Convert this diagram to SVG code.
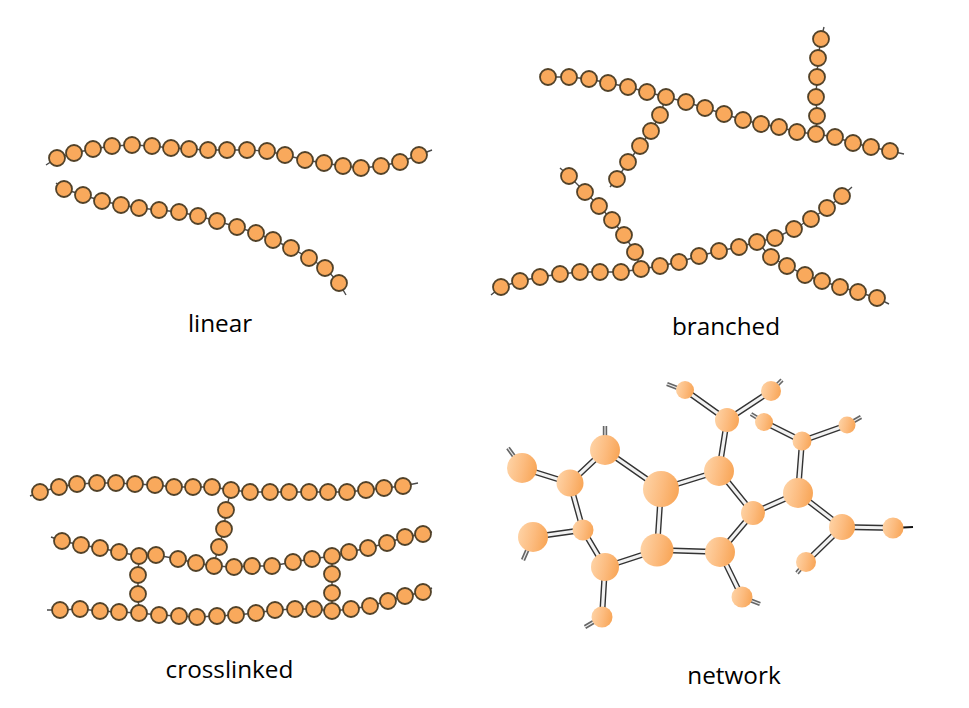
<svg xmlns="http://www.w3.org/2000/svg" width="969" height="708" viewBox="0 0 969 708">
<style>
.b circle{fill:#f9a95c;stroke:#524229;stroke-width:1.8}
.chain{fill:none;stroke:#4a4a4a;stroke-width:1.4}
.o{stroke:#333;stroke-width:6;fill:none}
.i{stroke:#f2f2f2;stroke-width:3.2;fill:none}
.s{stroke:#666;stroke-width:4.4;fill:none}
.s2{stroke:#eee;stroke-width:1.2;fill:none}
.a{fill:url(#g)}
.l{font-family:"Open Sans","Liberation Sans",sans-serif;font-size:24.300px;fill:#000;text-anchor:middle}
</style>
<defs>
<linearGradient id="g" x1="0" y1="0.3" x2="1" y2="0.5"><stop offset="0" stop-color="#fed3a6"/><stop offset="0.55" stop-color="#fcbb7e"/><stop offset="1" stop-color="#f8a658"/></linearGradient>
</defs>
<rect width="969" height="708" fill="#fff"/>
<g id="connectors">
<polyline class="chain" points="46,165 57,158 74,153 93,149 112,146 132,145 152,146 171,148 189,149 208,150 227,150 247,150 267,151 285,155 305,160 324,163 343,166 361,168 381,166 400,162 419,155 432,150"/>
<polyline class="chain" points="56,183 64,189 83,195 102,201 121,205 139,208 159,210 179,212 198,216 217,221 237,227 256,233 273,240 291,248 309,258 325,268 339,283 346,295"/>
<polyline class="chain" points="540,74 548,77 569,77 589,79 608,83 628,87 647,92 666,97 686,102 705,108 724,114 743,120 761,124 779,127 797,132 816,134 835,137 853,143 871,147 890,151 904,154"/>
<polyline class="chain" points="816,134 817,116 816,97 817,77 818,58 821,39 824,27"/>
<polyline class="chain" points="666,97 660,115 651,131 640,146 628,162 617,179 610,187"/>
<polyline class="chain" points="491,295 501,287 520,281 540,277 560,274 580,272 600,272 621,272 641,269 660,266 679,262 699,256 719,251 739,247 757,242 775,238 794,229 811,219 827,208 842,196 852,187"/>
<polyline class="chain" points="560,168 569,176 585,192 599,206 612,220 624,235 635,252 641,269"/>
<polyline class="chain" points="757,242 771,257 787,266 805,275 822,281 840,287 858,292 877,298 889,304"/>
<polyline class="chain" points="30,496 40,492 59,487 77,484 97,483 116,483 135,484 155,485 174,487 193,487 212,487 231,490 250,492 270,492 289,492 309,492 328,492 347,492 366,490 384,488 403,486 418,483"/>
<polyline class="chain" points="231,490 226,510 224,529 219,547 213,566"/>
<polyline class="chain" points="51,537 62,541 81,545 100,548 119,552 139,556 156,555 178,559 196,563 214,566 234,567 252,566 272,566 293,562 312,559 332,556 349,552 368,548 387,543 405,537 423,534 432,532"/>
<polyline class="chain" points="47,610 60,610 80,609 100,611 119,612 139,613 159,615 179,616 197,617 217,616 236,615 256,613 275,610 295,609 314,609 332,611 351,609 370,606 388,601 405,596 423,592 432,588"/>
<polyline class="chain" points="139,556 138,575 138,594 139,613"/>
<polyline class="chain" points="332,556 332,574 332,593 332,611"/>
<path class="o" d="M522,468L570,483M570,483L605,450M605,450L661,489M661,489L719,471M719,471L727,420M727,420L685,390M727,420L771,391M719,471L753,513M753,513L798,493M798,493L802,441M802,441L764,422M802,441L847,425M798,493L842,527M842,527L893,528M842,527L806,562M753,513L720,552M720,552L657,550M720,552L742,597M661,489L657,550M657,550L605,567M605,567L583,530M583,530L533,537M583,530L570,483M605,567L602,617"/>
<path class="i" d="M522,468L570,483M570,483L605,450M605,450L661,489M661,489L719,471M719,471L727,420M727,420L685,390M727,420L771,391M719,471L753,513M753,513L798,493M798,493L802,441M802,441L764,422M802,441L847,425M798,493L842,527M842,527L893,528M842,527L806,562M753,513L720,552M720,552L657,550M720,552L742,597M661,489L657,550M657,550L605,567M605,567L583,530M583,530L533,537M583,530L570,483M605,567L602,617"/>
<path class="s" d="M508,448L516,459M605,426L605,438M667,384L680,389M782,380L771,391M751,414L764,422M861,417L847,425M797,573L806,562M760,604L742,597M585,627L602,617M523,560L533,537"/>
<path class="s2" d="M508,448L516,459M605,426L605,438M667,384L680,389M782,380L771,391M751,414L764,422M861,417L847,425M797,573L806,562M760,604L742,597M585,627L602,617M523,560L533,537"/>
<path d="M893,528L913,527" stroke="#111" stroke-width="2" fill="none"/>
</g>
<g id="linear-1" class="b"><circle cx="57" cy="158" r="8"/><circle cx="74" cy="153" r="8"/><circle cx="93" cy="149" r="8"/><circle cx="112" cy="146" r="8"/><circle cx="132" cy="145" r="8"/><circle cx="152" cy="146" r="8"/><circle cx="171" cy="148" r="8"/><circle cx="189" cy="149" r="8"/><circle cx="208" cy="150" r="8"/><circle cx="227" cy="150" r="8"/><circle cx="247" cy="150" r="8"/><circle cx="267" cy="151" r="8"/><circle cx="285" cy="155" r="8"/><circle cx="305" cy="160" r="8"/><circle cx="324" cy="163" r="8"/><circle cx="343" cy="166" r="8"/><circle cx="361" cy="168" r="8"/><circle cx="381" cy="166" r="8"/><circle cx="400" cy="162" r="8"/><circle cx="419" cy="155" r="8"/></g>
<g id="linear-2" class="b"><circle cx="64" cy="189" r="8"/><circle cx="83" cy="195" r="8"/><circle cx="102" cy="201" r="8"/><circle cx="121" cy="205" r="8"/><circle cx="139" cy="208" r="8"/><circle cx="159" cy="210" r="8"/><circle cx="179" cy="212" r="8"/><circle cx="198" cy="216" r="8"/><circle cx="217" cy="221" r="8"/><circle cx="237" cy="227" r="8"/><circle cx="256" cy="233" r="8"/><circle cx="273" cy="240" r="8"/><circle cx="291" cy="248" r="8"/><circle cx="309" cy="258" r="8"/><circle cx="325" cy="268" r="8"/><circle cx="339" cy="283" r="8"/></g>
<g id="branched-1" class="b"><circle cx="548" cy="77" r="8"/><circle cx="569" cy="77" r="8"/><circle cx="589" cy="79" r="8"/><circle cx="608" cy="83" r="8"/><circle cx="628" cy="87" r="8"/><circle cx="647" cy="92" r="8"/><circle cx="666" cy="97" r="8"/><circle cx="686" cy="102" r="8"/><circle cx="705" cy="108" r="8"/><circle cx="724" cy="114" r="8"/><circle cx="743" cy="120" r="8"/><circle cx="761" cy="124" r="8"/><circle cx="779" cy="127" r="8"/><circle cx="797" cy="132" r="8"/><circle cx="816" cy="134" r="8"/><circle cx="835" cy="137" r="8"/><circle cx="853" cy="143" r="8"/><circle cx="871" cy="147" r="8"/><circle cx="890" cy="151" r="8"/><circle cx="817" cy="116" r="8"/><circle cx="816" cy="97" r="8"/><circle cx="817" cy="77" r="8"/><circle cx="818" cy="58" r="8"/><circle cx="821" cy="39" r="8"/><circle cx="660" cy="115" r="8"/><circle cx="651" cy="131" r="8"/><circle cx="640" cy="146" r="8"/><circle cx="628" cy="162" r="8"/><circle cx="617" cy="179" r="8"/></g>
<g id="branched-2" class="b"><circle cx="501" cy="287" r="8"/><circle cx="520" cy="281" r="8"/><circle cx="540" cy="277" r="8"/><circle cx="560" cy="274" r="8"/><circle cx="580" cy="272" r="8"/><circle cx="600" cy="272" r="8"/><circle cx="621" cy="272" r="8"/><circle cx="641" cy="269" r="8"/><circle cx="660" cy="266" r="8"/><circle cx="679" cy="262" r="8"/><circle cx="699" cy="256" r="8"/><circle cx="719" cy="251" r="8"/><circle cx="739" cy="247" r="8"/><circle cx="757" cy="242" r="8"/><circle cx="775" cy="238" r="8"/><circle cx="794" cy="229" r="8"/><circle cx="811" cy="219" r="8"/><circle cx="827" cy="208" r="8"/><circle cx="842" cy="196" r="8"/><circle cx="569" cy="176" r="8"/><circle cx="585" cy="192" r="8"/><circle cx="599" cy="206" r="8"/><circle cx="612" cy="220" r="8"/><circle cx="624" cy="235" r="8"/><circle cx="635" cy="252" r="8"/><circle cx="771" cy="257" r="8"/><circle cx="787" cy="266" r="8"/><circle cx="805" cy="275" r="8"/><circle cx="822" cy="281" r="8"/><circle cx="840" cy="287" r="8"/><circle cx="858" cy="292" r="8"/><circle cx="877" cy="298" r="8"/></g>
<g id="crosslinked-1" class="b"><circle cx="40" cy="492" r="8"/><circle cx="59" cy="487" r="8"/><circle cx="77" cy="484" r="8"/><circle cx="97" cy="483" r="8"/><circle cx="116" cy="483" r="8"/><circle cx="135" cy="484" r="8"/><circle cx="155" cy="485" r="8"/><circle cx="174" cy="487" r="8"/><circle cx="193" cy="487" r="8"/><circle cx="212" cy="487" r="8"/><circle cx="231" cy="490" r="8"/><circle cx="250" cy="492" r="8"/><circle cx="270" cy="492" r="8"/><circle cx="289" cy="492" r="8"/><circle cx="309" cy="492" r="8"/><circle cx="328" cy="492" r="8"/><circle cx="347" cy="492" r="8"/><circle cx="366" cy="490" r="8"/><circle cx="384" cy="488" r="8"/><circle cx="403" cy="486" r="8"/><circle cx="226" cy="510" r="8"/><circle cx="224" cy="529" r="8"/><circle cx="219" cy="547" r="8"/></g>
<g id="crosslinked-2" class="b"><circle cx="62" cy="541" r="8"/><circle cx="81" cy="545" r="8"/><circle cx="100" cy="548" r="8"/><circle cx="119" cy="552" r="8"/><circle cx="139" cy="556" r="8"/><circle cx="156" cy="555" r="8"/><circle cx="178" cy="559" r="8"/><circle cx="196" cy="563" r="8"/><circle cx="214" cy="566" r="8"/><circle cx="234" cy="567" r="8"/><circle cx="252" cy="566" r="8"/><circle cx="272" cy="566" r="8"/><circle cx="293" cy="562" r="8"/><circle cx="312" cy="559" r="8"/><circle cx="332" cy="556" r="8"/><circle cx="349" cy="552" r="8"/><circle cx="368" cy="548" r="8"/><circle cx="387" cy="543" r="8"/><circle cx="405" cy="537" r="8"/><circle cx="423" cy="534" r="8"/><circle cx="138" cy="575" r="8"/><circle cx="138" cy="594" r="8"/><circle cx="332" cy="574" r="8"/><circle cx="332" cy="593" r="8"/></g>
<g id="crosslinked-3" class="b"><circle cx="60" cy="610" r="8"/><circle cx="80" cy="609" r="8"/><circle cx="100" cy="611" r="8"/><circle cx="119" cy="612" r="8"/><circle cx="139" cy="613" r="8"/><circle cx="159" cy="615" r="8"/><circle cx="179" cy="616" r="8"/><circle cx="197" cy="617" r="8"/><circle cx="217" cy="616" r="8"/><circle cx="236" cy="615" r="8"/><circle cx="256" cy="613" r="8"/><circle cx="275" cy="610" r="8"/><circle cx="295" cy="609" r="8"/><circle cx="314" cy="609" r="8"/><circle cx="332" cy="611" r="8"/><circle cx="351" cy="609" r="8"/><circle cx="370" cy="606" r="8"/><circle cx="388" cy="601" r="8"/><circle cx="405" cy="596" r="8"/><circle cx="423" cy="592" r="8"/></g>
<g id="atom-1"><circle class="a" cx="522" cy="468" r="15"/></g>
<g id="atom-2"><circle class="a" cx="570" cy="483" r="13.500"/></g>
<g id="atom-3"><circle class="a" cx="605" cy="450" r="15"/></g>
<g id="atom-4"><circle class="a" cx="661" cy="489" r="18"/></g>
<g id="atom-5"><circle class="a" cx="685" cy="390" r="9"/></g>
<g id="atom-6"><circle class="a" cx="727" cy="420" r="12"/></g>
<g id="atom-7"><circle class="a" cx="719" cy="471" r="15"/></g>
<g id="atom-8"><circle class="a" cx="771" cy="391" r="10"/></g>
<g id="atom-9"><circle class="a" cx="764" cy="422" r="9"/></g>
<g id="atom-10"><circle class="a" cx="802" cy="441" r="9.500"/></g>
<g id="atom-11"><circle class="a" cx="847" cy="425" r="8.500"/></g>
<g id="atom-12"><circle class="a" cx="798" cy="493" r="15"/></g>
<g id="atom-13"><circle class="a" cx="753" cy="513" r="12"/></g>
<g id="atom-14"><circle class="a" cx="533" cy="537" r="15"/></g>
<g id="atom-15"><circle class="a" cx="583" cy="530" r="10.500"/></g>
<g id="atom-16"><circle class="a" cx="605" cy="567" r="14"/></g>
<g id="atom-17"><circle class="a" cx="657" cy="550" r="16.500"/></g>
<g id="atom-18"><circle class="a" cx="720" cy="552" r="15"/></g>
<g id="atom-19"><circle class="a" cx="602" cy="617" r="10.500"/></g>
<g id="atom-20"><circle class="a" cx="842" cy="527" r="13"/></g>
<g id="atom-21"><circle class="a" cx="893" cy="528" r="10.500"/></g>
<g id="atom-22"><circle class="a" cx="806" cy="562" r="10"/></g>
<g id="atom-23"><circle class="a" cx="742" cy="597" r="10.500"/></g>
<text class="l" x="220" y="331.500">linear</text>
<text class="l" x="726" y="334.500">branched</text>
<text class="l" x="229.500" y="677.500">crosslinked</text>
<text class="l" x="734" y="683.500">network</text>
</svg>
